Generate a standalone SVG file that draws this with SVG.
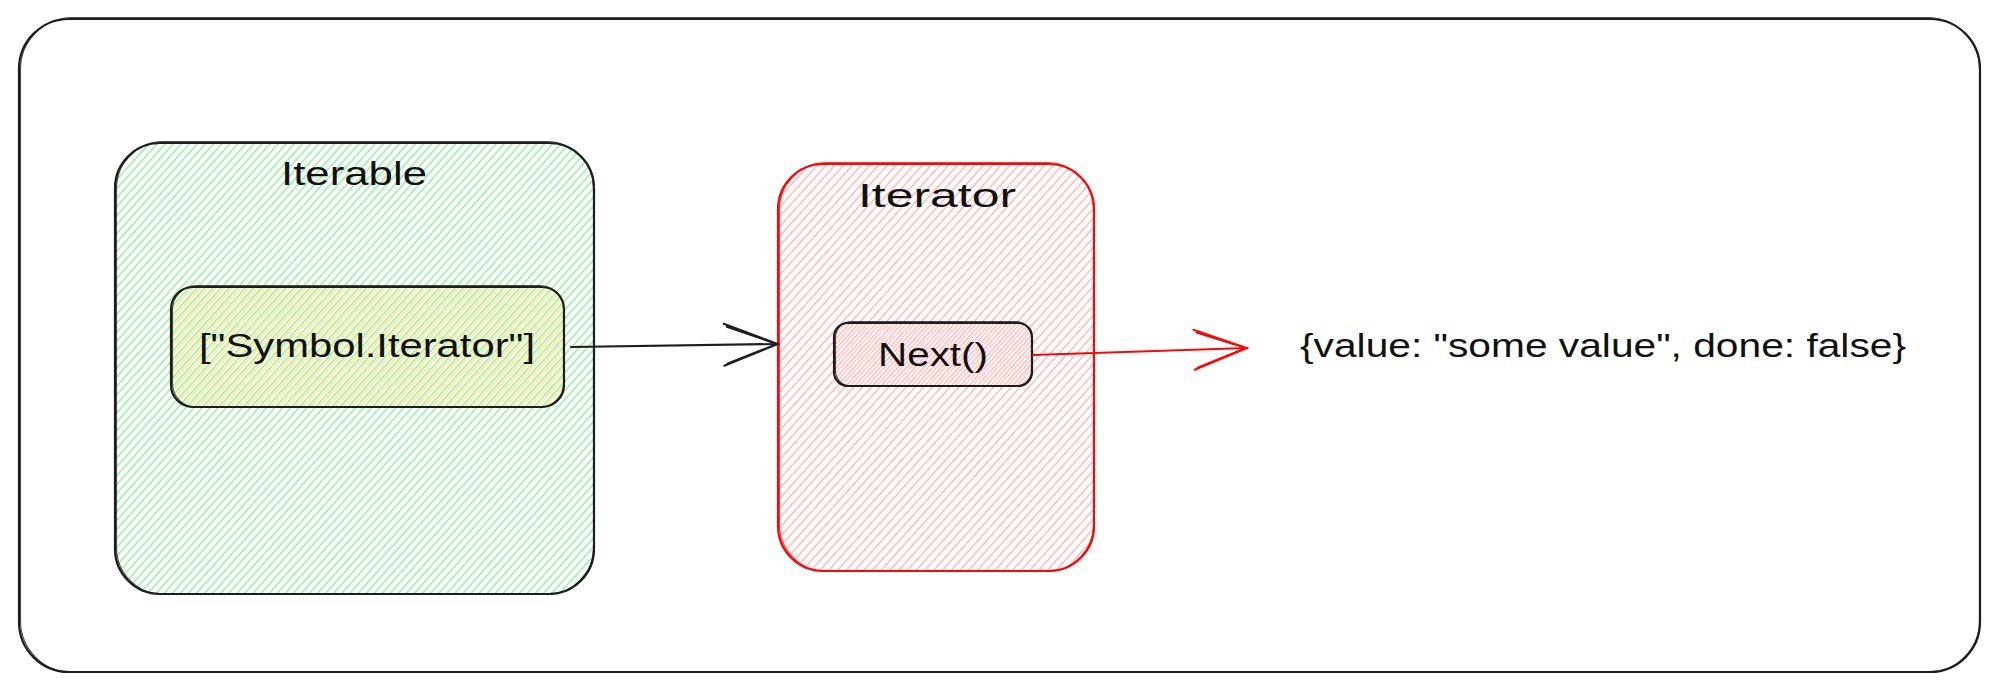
<svg xmlns="http://www.w3.org/2000/svg" width="2000" height="690" viewBox="0 0 2000 690">
<style>
.box{fill:none;stroke:#1e1e1e;stroke-width:2.2;stroke-linecap:round}
.box2{fill:none;stroke:#1e1e1e;stroke-width:1.1;opacity:.8}
.red{fill:none;stroke:#f50a0a;stroke-width:2.2}
.red2{fill:none;stroke:#f50a0a;stroke-width:1.1;opacity:.8}
.lbl{font-family:"Liberation Sans","DejaVu Sans",sans-serif;font-size:34px;fill:#111;text-anchor:middle}
.conn{fill:none;stroke-width:2.2;stroke-linecap:round}
</style>
<defs>
<pattern id="hG" patternUnits="userSpaceOnUse" width="6" height="6" patternTransform="rotate(42)">
<line x1="3" y1="0" x2="3" y2="6" stroke="#8ce99a" stroke-width="1.4"/>
</pattern>
<pattern id="hY" patternUnits="userSpaceOnUse" width="6" height="6" patternTransform="rotate(42) translate(2.5 0)">
<line x1="3" y1="0" x2="3" y2="6" stroke="#ffe066" stroke-width="1.3"/>
</pattern>
<pattern id="hR" patternUnits="userSpaceOnUse" width="6.5" height="6.5" patternTransform="rotate(42)">
<line x1="3" y1="0" x2="3" y2="6.5" stroke="#ffb3b3" stroke-width="1.4"/>
</pattern>
<pattern id="hR2" patternUnits="userSpaceOnUse" width="6.5" height="6.5" patternTransform="rotate(42) translate(3 0)">
<line x1="3" y1="0" x2="3" y2="6.5" stroke="#ffb3b3" stroke-width="1.2"/>
</pattern>
<marker id="arrK" markerUnits="userSpaceOnUse" markerWidth="62" markerHeight="50" viewBox="0 0 62 50" refX="60" refY="25" orient="auto">
<path d="M6,4 L60,25 L6,46 M9,7 L59,25 L9,44" fill="none" stroke="#1e1e1e" stroke-width="2" stroke-linecap="round"/>
</marker>
<marker id="arrR" markerUnits="userSpaceOnUse" markerWidth="62" markerHeight="50" viewBox="0 0 62 50" refX="60" refY="25" orient="auto">
<path d="M7,5 L60,25 L7,45 M10,8 L59,25 L10,43" fill="none" stroke="#f50a0a" stroke-width="2" stroke-linecap="round"/>
</marker>
</defs>

<g id="container">
<rect x="19" y="19" width="1961" height="653" rx="50" class="box"/>
<rect x="20.5" y="17.5" width="1959" height="655" rx="52" class="box2"/>
</g>

<g id="iterable">
<rect x="115" y="143" width="479" height="451" rx="45" fill="url(#hG)"/>
<rect x="115" y="143" width="479" height="451" rx="45" class="box"/>
<rect x="116.5" y="141.5" width="477" height="453" rx="47" class="box2"/>
<text x="354" y="185" class="lbl" textLength="146" lengthAdjust="spacingAndGlyphs">Iterable</text>
</g>

<g id="symbol-iterator">
<rect x="171" y="287" width="393" height="120" rx="22" fill="url(#hY)"/>
<rect x="171" y="287" width="393" height="120" rx="22" class="box"/>
<rect x="172.5" y="285.5" width="391" height="122" rx="24" class="box2"/>
<text x="367" y="357" class="lbl" textLength="336" lengthAdjust="spacingAndGlyphs">["Symbol.Iterator"]</text>
</g>

<g id="iterator">
<rect x="778" y="164" width="316" height="407" rx="45" fill="url(#hR)"/>
<rect x="778" y="164" width="316" height="407" rx="45" class="red"/>
<rect x="779.5" y="162.5" width="314" height="409" rx="47" class="red2"/>
<text x="937" y="207" class="lbl" textLength="158" lengthAdjust="spacingAndGlyphs">Iterator</text>
</g>

<g id="next">
<rect x="834" y="323" width="198" height="63" rx="14" fill="url(#hR2)"/>
<rect x="834" y="323" width="198" height="63" rx="14" class="box"/>
<rect x="835.5" y="321.5" width="196" height="65" rx="16" class="box2"/>
<text x="933" y="366" class="lbl" textLength="110" lengthAdjust="spacingAndGlyphs">Next()</text>
</g>

<g id="result">
<text x="1603" y="357" class="lbl" textLength="606" lengthAdjust="spacingAndGlyphs">{value: "some value", done: false}</text>
</g>

<g id="connectors">
<path d="M571,347 L778,344" class="conn" stroke="#1e1e1e" marker-end="url(#arrK)"/>
<path d="M1033,355 L1247,348" class="conn" stroke="#f50a0a" marker-end="url(#arrR)"/>
</g>
</svg>
